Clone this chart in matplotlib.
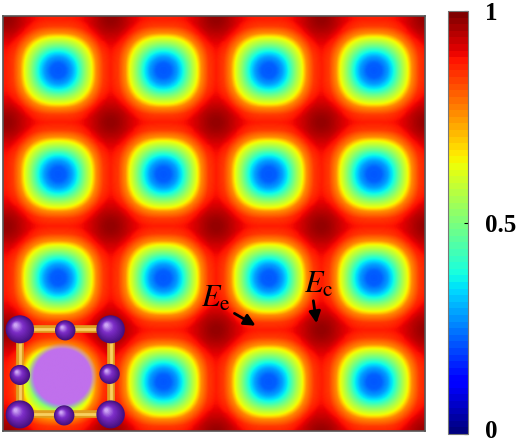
import numpy as np
import matplotlib.pyplot as plt
from matplotlib.patches import Circle
from matplotlib.cm import ScalarMappable
from matplotlib.colors import Normalize

# radial profile of one cell (distance from a cell centre, in cell units)
profile_r = [0.0, 0.07, 0.13, 0.19, 0.23, 0.27, 0.32, 0.36, 0.43, 0.50]
profile_v = [0.21, 0.22, 0.28, 0.38, 0.47, 0.55, 0.64, 0.76, 0.85, 0.88]
corner_v = 0.98          # darkest red between four cells
n_cells = 4
shift_x, shift_y = 0.02, -0.03   # lattice offset seen in the picture

# inset structure (main-axes data units)
big_x = [0.16, 1.02, 0.16, 1.02]
big_y = [0.98, 0.98, 0.16, 0.16]
small_x = [0.59, 0.16, 1.01, 0.58]
small_y = [0.97, 0.54, 0.55, 0.15]
hole_xy = (0.56, 0.52)

# labels
cbar_ticks = [0, 0.5, 1]
cbar_labels = ["", "0.5", "1"]

# ---- field ----
N = 480
g = np.linspace(0, n_cells, N)
X, Y = np.meshgrid(g, g)
dx = ((X - shift_x) % 1.0) - 0.5
dy = ((Y - shift_y) % 1.0) - 0.5
r2 = np.hypot(dx, dy)
ex = 2 + 1.0*np.clip(r2/0.5, 0, 1)**2   # round core, squarer outer rings
r = (np.abs(dx)**ex + np.abs(dy)**ex)**(1/ex)
base = np.interp(r, profile_r, profile_v)
c = (1 - np.cos(2*np.pi*dx))/2 * (1 - np.cos(2*np.pi*dy))/2
Z = base + (corner_v - profile_v[-1]) * c**2

fig = plt.figure(figsize=(5.2, 4.43), dpi=100)
ax = fig.add_axes([3/520, 12/443, 422/520, 415/443])
ax.imshow(Z, origin='lower', extent=[0, n_cells, 0, n_cells], cmap='jet',
          vmin=0, vmax=1, aspect='auto', interpolation='bilinear')
ax.set_xlim(0, n_cells)
ax.set_ylim(0, n_cells)
ax.set_xticks([])
ax.set_yticks([])
for s in ax.spines.values():
    s.set_color('#555555')
    s.set_linewidth(1.2)

# ---- inset: violet hole with soft edge ----
hr = 0.38
m = 120
hx = np.linspace(-hr, hr, m)
HX, HY = np.meshgrid(hx, hx)
rr = np.hypot(HX, HY)
rgba = np.zeros((m, m, 4))
rgba[..., 0] = 192/255
rgba[..., 1] = 112/255
rgba[..., 2] = 236/255
rgba[..., 3] = np.clip((0.33 - rr)/0.06, 0, 1)
ax.imshow(rgba, extent=[hole_xy[0]-hr, hole_xy[0]+hr, hole_xy[1]-hr, hole_xy[1]+hr],
          origin='lower', aspect='auto', zorder=3, interpolation='bilinear')

# bonds
sq_x = [big_x[0], big_x[1], big_x[3], big_x[2], big_x[0]]
sq_y = [big_y[0], big_y[1], big_y[3], big_y[2], big_y[0]]
ax.plot(sq_x, sq_y, color='#e0a020', lw=5.5, solid_capstyle='butt', zorder=4)
ax.plot(sq_x, sq_y, color='#f8d060', lw=2.0, solid_capstyle='butt', zorder=4)


def sphere(x, y, rad):
    dark = np.array([70, 15, 125])/255
    mid = np.array([125, 45, 200])/255
    light = np.array([205, 165, 245])/255
    k = 14
    for i in range(k):
        t = i/(k-1)
        if t < 0.6:
            col = dark + (mid - dark)*(t/0.6)
        else:
            col = mid + (light - mid)*((t-0.6)/0.4)
        ax.add_patch(Circle((x - 0.3*rad*t, y + 0.3*rad*t), rad*(1 - 0.88*t),
                            color=col, lw=0, zorder=5))


for x, y in zip(big_x, big_y):
    sphere(x, y, 0.135)
for x, y in zip(small_x, small_y):
    sphere(x, y, 0.097)

# ---- annotations ----
plt.rcParams['mathtext.fontset'] = 'stix'
ax.text(1.876, 1.195, r'$E_{\mathrm{e}}$', fontsize=22, color='black', zorder=6)
ax.text(2.853, 1.330, r'$E_{\mathrm{c}}$', fontsize=22, color='black', zorder=6)
ax.annotate('', xy=(2.417, 1.002), xytext=(2.171, 1.147),
            arrowprops=dict(arrowstyle='-|>', color='black', lw=2,
                            mutation_scale=17), zorder=6)
ax.annotate('', xy=(2.976, 1.012), xytext=(2.938, 1.282),
            arrowprops=dict(arrowstyle='-|>', color='black', lw=2,
                            mutation_scale=17), zorder=6)

# ---- colorbar ----
cax = fig.add_axes([448/520, 9/443, 20/520, 423/443])
sm = ScalarMappable(norm=Normalize(0, 1), cmap=plt.get_cmap('jet', 64))
cb = fig.colorbar(sm, cax=cax, ticks=cbar_ticks)
cb.outline.set_edgecolor('#777777')
cb.outline.set_linewidth(0.8)
cb.ax.set_yticklabels(cbar_labels)
cb.ax.tick_params(direction='in', length=3, width=0.8, pad=12, labelsize=18)
for t in cb.ax.get_yticklabels():
    t.set_fontfamily('Liberation Serif')
    t.set_fontweight('bold')
# bottom label set by hand so it stays inside the picture
cax.annotate("0", xy=(1, 0), xycoords='axes fraction', xytext=(12, -3),
             textcoords='offset points', va='baseline', ha='left',
             fontsize=18, fontfamily='Liberation Serif', fontweight='bold')

fig.savefig('out.png', dpi=100)
